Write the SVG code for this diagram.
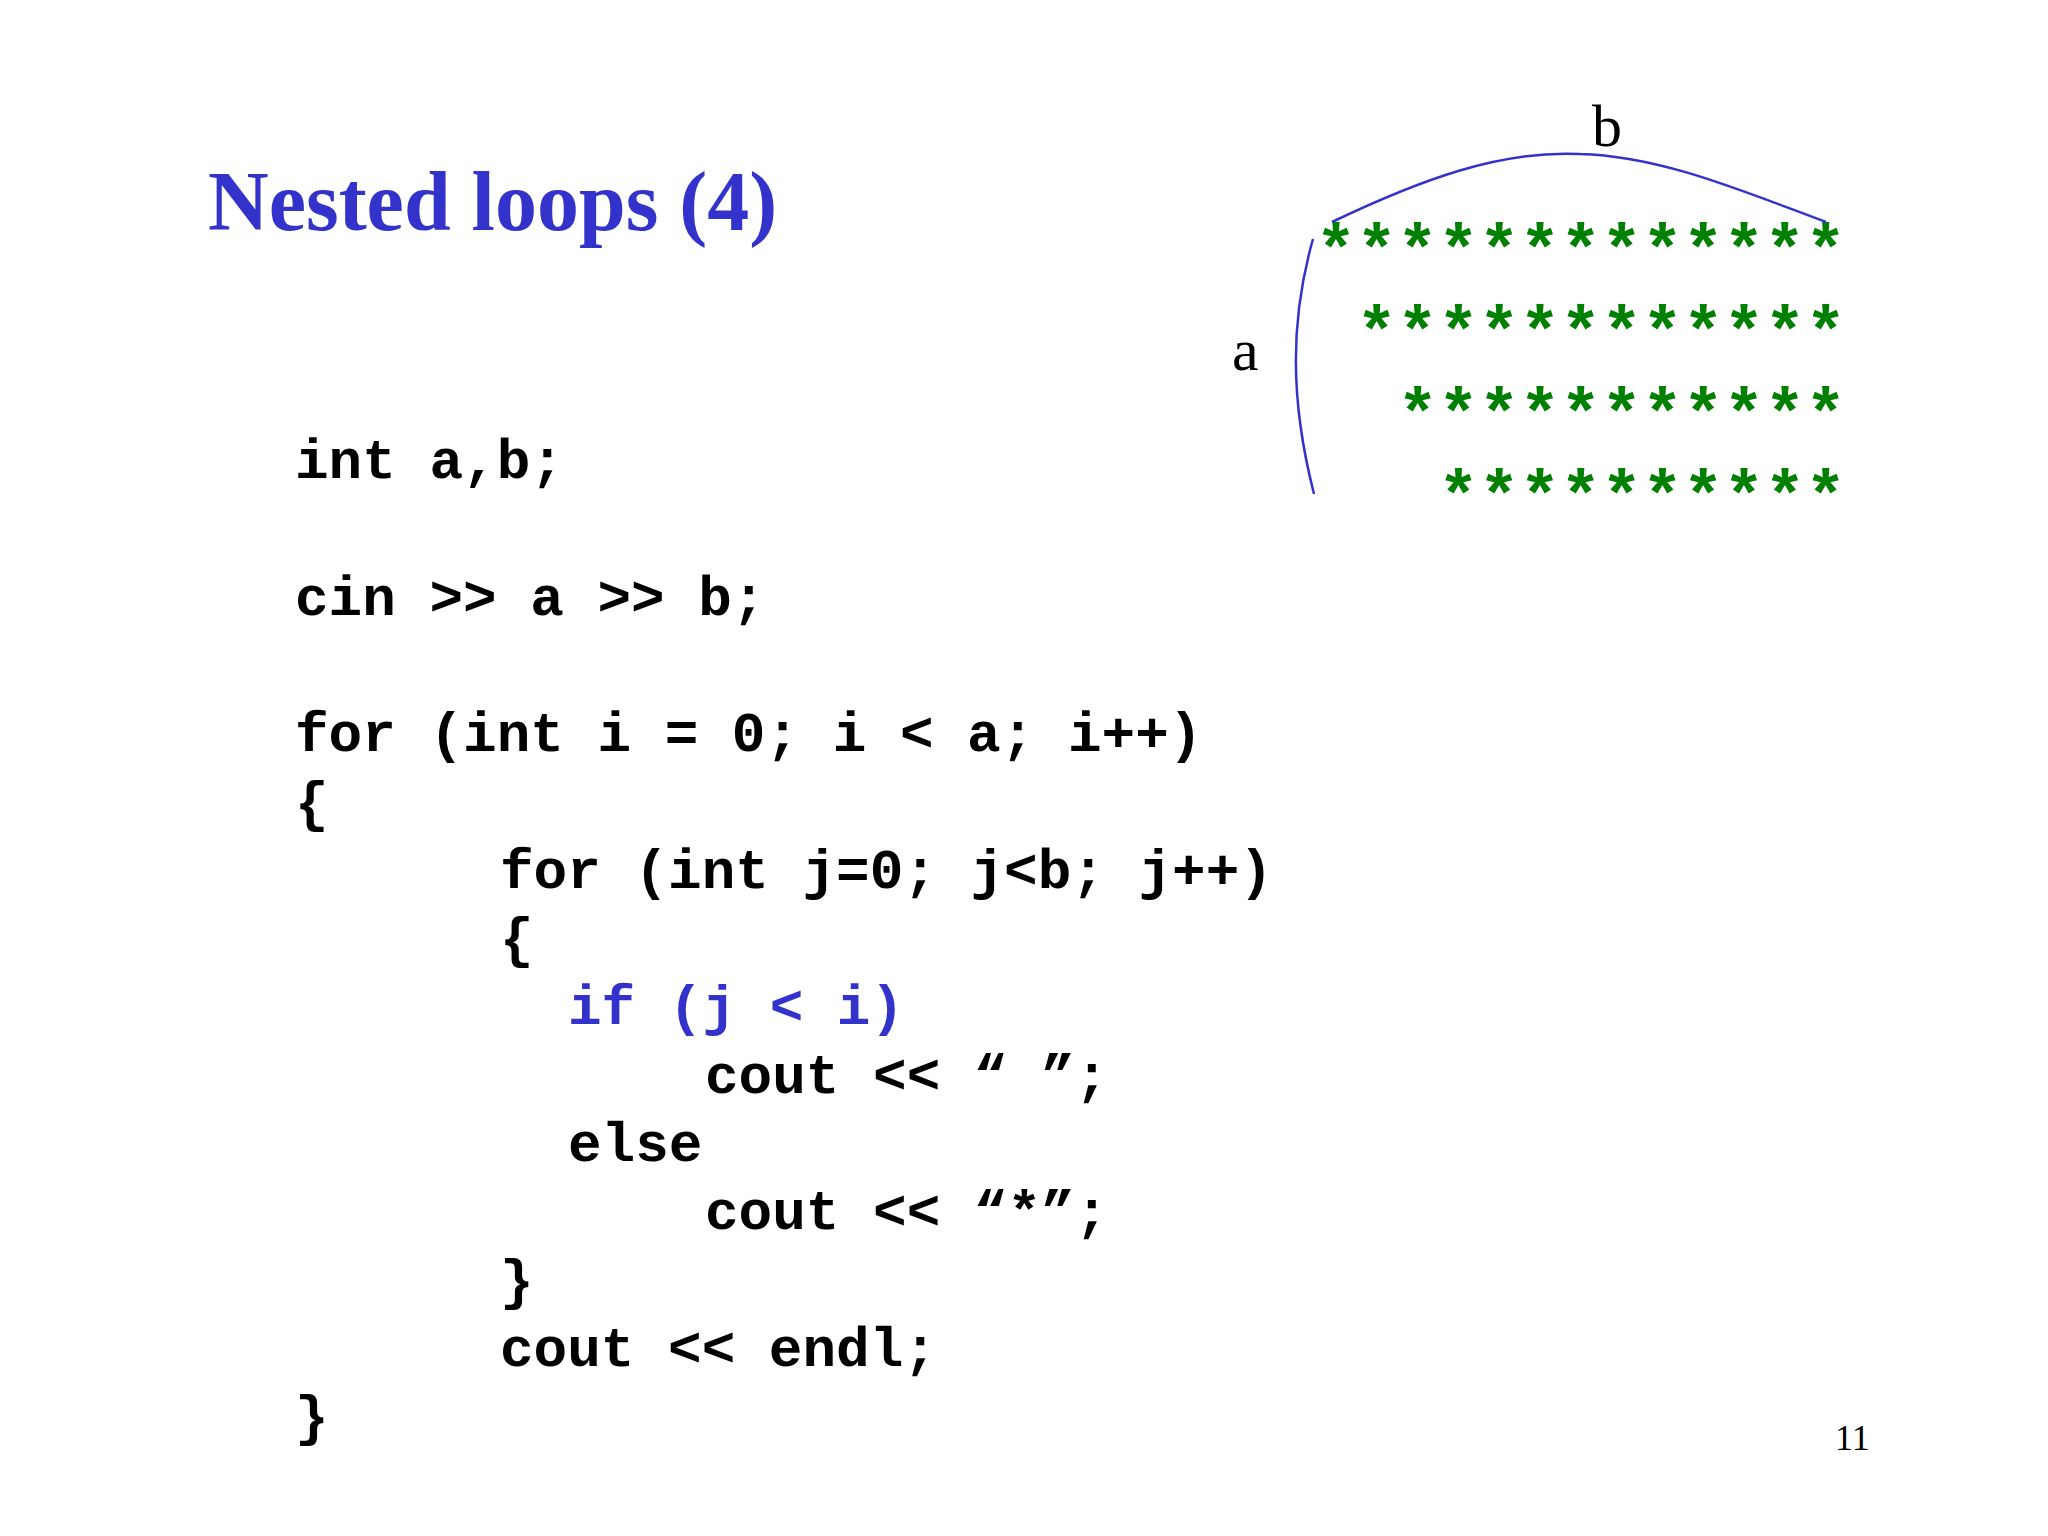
<svg xmlns="http://www.w3.org/2000/svg" width="2048" height="1536" viewBox="0 0 2048 1536">
<style>
.code{font-family:"Liberation Mono","Courier New",monospace;font-weight:bold;font-size:56px;fill:#000;white-space:pre}
.star{font-family:"Liberation Mono","Courier New",monospace;font-weight:bold;font-size:68px;fill:#008000;text-anchor:end}
.lbl{font-family:"Liberation Serif","Times New Roman",serif;font-size:60px;fill:#000}
.brace{fill:none;stroke:#3333CC;stroke-width:2.5}
</style>
<rect width="2048" height="1536" fill="#fff"/>
<text x="208" y="230" font-family="Liberation Serif,'Times New Roman',serif" font-weight="bold" font-size="84" fill="#3333CC">Nested loops (4)</text>
<g id="code">
<text class="code" x="295" y="478">int a,b;</text>
<text class="code" x="295" y="615">cin &gt;&gt; a &gt;&gt; b;</text>
<text class="code" x="295" y="751">for (int i = 0; i &lt; a; i++)</text>
<text class="code" x="295" y="820">{</text>
<text class="code" x="500" y="888">for (int j=0; j&lt;b; j++)</text>
<text class="code" x="500" y="956">{</text>
<text class="code" x="568" y="1024" fill="#3333CC" style="fill:#3333CC">if (j &lt; i)</text>
<text class="code" x="705" y="1093">cout &lt;&lt; “ ”;</text>
<text class="code" x="568" y="1161">else</text>
<text class="code" x="705" y="1229">cout &lt;&lt; “*”;</text>
<text class="code" x="500" y="1298">}</text>
<text class="code" x="500" y="1366">cout &lt;&lt; endl;</text>
<text class="code" x="295" y="1434">}</text>
</g>
<g id="stars">
<text class="star" x="1846" y="272">*************</text>
<text class="star" x="1846" y="354">************</text>
<text class="star" x="1846" y="436">***********</text>
<text class="star" x="1846" y="518">**********</text>
</g>
<g id="connectors">
<path class="brace" d="M1332,222 C1420,180 1500,150 1580,154 C1660,156 1740,190 1826,222"/>
<path class="brace" d="M1313,239 C1290,320 1290,400 1314,494"/>
</g>
<text class="lbl" x="1592" y="146">b</text>
<text class="lbl" x="1232" y="370">a</text>
<text x="1835" y="1450" font-family="Liberation Serif,'Times New Roman',serif" font-size="36" fill="#000">11</text>
</svg>
